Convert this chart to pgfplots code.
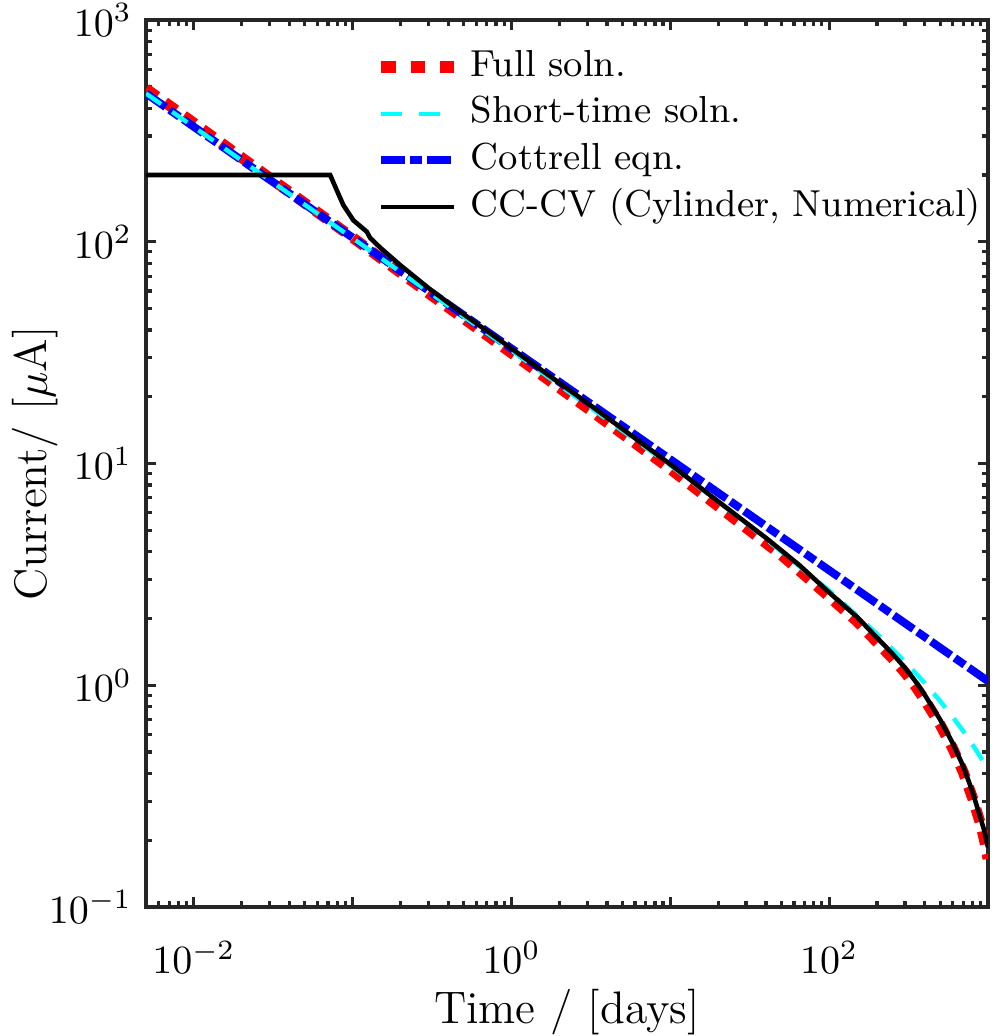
\documentclass[border=0pt]{standalone}
\usepackage{pgfplots}
\pgfplotsset{compat=1.18}
\definecolor{mred}{rgb}{1,0,0}
\definecolor{mcyan}{rgb}{0,1,1}
\definecolor{mblue}{rgb}{0,0,1}
\begin{document}
\begin{tikzpicture}
\begin{axis}[
  name=ax,
  scale only axis,
  width=210.5pt, height=221.75pt,
  xmode=log, ymode=log,
  xmin=0.005, xmax=1000, ymin=0.1, ymax=1000,
  xtick={0.01,0.1,1,10,100,1000},
  xticklabels={$10^{-2}$,,$10^{0}$,,$10^{2}$,},
  ytick={0.1,1,10,100,1000},
  yticklabels={$10^{-1}$,$10^{0}$,$10^{1}$,$10^{2}$,$10^{3}$},
  minor xtick={0.006,0.007,0.008,0.009,0.02,0.03,0.04,0.05,0.06,0.07,0.08,0.09,0.2,0.3,0.4,0.5,0.6,0.7,0.8,0.9,2,3,4,5,6,7,8,9,20,30,40,50,60,70,80,90,200,300,400,500,600,700,800,900},
  minor ytick={0.2,0.3,0.4,0.5,0.6,0.7,0.8,0.9,2,3,4,5,6,7,8,9,20,30,40,50,60,70,80,90,200,300,400,500,600,700,800,900},
  tick align=inside,
  major tick length=2.6pt, minor tick length=1.6pt,
  tick style={black!85, line width=0.8pt},
  axis line style={black!85, line width=1.1pt},
  xticklabel style={yshift=-5pt},
  xlabel={Time / [days]},
  ylabel={Current/ [$\mu$A]},
  label style={font=\fontsize{11.4}{13}\selectfont},
  xlabel style={at={(axis description cs:0.5,0)}, anchor=base, yshift=-29pt},
  ylabel style={at={(axis description cs:-0.1176,0.5)}, anchor=base},
  legend style={draw=none, fill=none, inner sep=0pt, outer sep=0pt,
    at={(axis description cs:0.272,0.9684)}, anchor=north west,
    font=\fontsize{9.4}{11}\selectfont, row sep=2.17pt, column sep=2.5pt,
    nodes={inner sep=0pt, text height=7pt, text depth=2.5pt}},
  legend cell align=left,
  legend image code/.code={\draw[#1] (0pt,0pt) -- (18.25pt,0pt);},
]
\addlegendimage{mred, line width=3.2pt, dash pattern=on 3.65pt off 3.65pt}
\addlegendimage{mcyan, line width=1.1pt, dash pattern=on 5.2pt off 4.2pt}
\addlegendimage{mblue, line width=2pt, dash pattern=on 6pt off 1.2pt on 3pt off 1.2pt}
\addlegendimage{black, line width=1.2pt}

% Full solution
\addplot[mred, line width=2.7pt, dash pattern=on 3.4pt off 2.4pt, forget plot] table {
t I
0.005 490
0.01 343.2
0.03 194.3
0.1 104.4
0.3 58.7
1 31.5
3 17.8
10 9.45
20 6.42
50 3.87
100 2.51
150 1.94
200 1.563
250 1.325
300 1.143
350 0.988
400 0.858
500 0.664
600 0.519
700 0.405
800 0.31
900 0.236
950 0.2
1000 0.165
};

% Cottrell
\addplot[mblue, line width=2pt, dash pattern=on 6pt off 1.2pt on 3pt off 1.2pt, forget plot] table {
t I
0.005 466.7
1000 1.044
};

% Short-time
\addplot[mcyan, line width=1.1pt, dash pattern=on 4.6pt off 3.4pt, forget plot] table {
t I
0.005 466.1
0.01 329.4
0.1 103.7
1 32.37
10 9.81
30 5.40
100 2.673
200 1.706
300 1.278
400 1.023
500 0.849
600 0.720
700 0.620
800 0.540
900 0.473
1000 0.417
};

% CC-CV
\addplot[black, line width=1.15pt, forget plot] table {
t I
0.005 200
0.0722 200
0.0794 171
0.0873 146.5
0.101 125
0.1227 111
0.129 104
0.15 93.7
0.2 78.3
0.3 61.9
0.5 47.1
1 33.0
3 18.76
10 9.92
20 6.75
40 4.62
65 3.48
100 2.62
150 2.03
200 1.64
250 1.39
300 1.20
350 1.04
400 0.905
500 0.70
600 0.548
700 0.43
800 0.33
900 0.25
950 0.22
1000 0.186
};

\legend{Full soln., Short-time soln., Cottrell eqn., {CC-CV (Cylinder, Numerical)}}
\end{axis}
\pgfresetboundingbox
\path ([xshift=-36.5pt,yshift=-32.25pt]ax.south west) rectangle ([xshift=2.5pt,yshift=5pt]ax.north east);
\end{tikzpicture}
\end{document}
